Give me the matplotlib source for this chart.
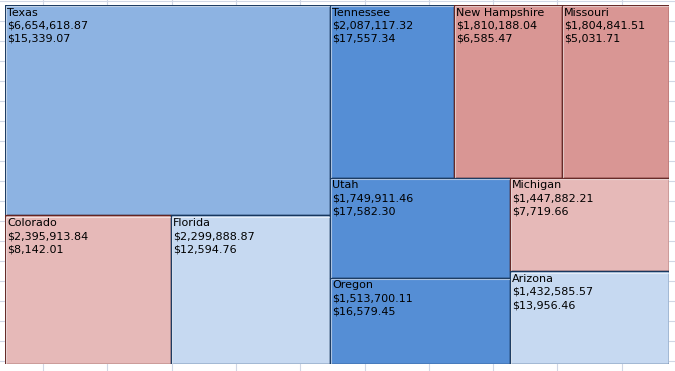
import numpy as np
import matplotlib
matplotlib.use("Agg")
import matplotlib.pyplot as plt
from matplotlib.patches import Rectangle
from matplotlib.colors import ListedColormap, BoundaryNorm

states = ["Texas", "Colorado", "Florida", "Tennessee", "New Hampshire",
          "Missouri", "Utah", "Oregon", "Michigan", "Arizona"]
sizes = [6654618.87, 2395913.84, 2299888.87, 2087117.32, 1810188.04,
         1804841.51, 1749911.46, 1513700.11, 1447882.21, 1432585.57]
shades = [15339.07, 8142.01, 12594.76, 17557.34, 6585.47,
          5031.71, 17582.30, 16579.45, 7719.66, 13956.46]

# binned diverging scale: low = red, high = blue
bounds = [0, 7000, 10000, 14500, 16000, 20000]
fills = ["#D99694", "#E6B9B8", "#C6D9F1", "#8DB3E2", "#558ED5"]
edges = ["#632523", "#632523", "#17375E", "#17375E", "#17375E"]
cmap = ListedColormap(fills)
norm = BoundaryNorm(bounds, cmap.N)


def split(items, x, y, w, h, out):
    if len(items) == 1:
        out.append((items[0], x, y, w, h))
        return
    total = sum(sizes[i] for i in items)
    best, bestd, cum = 1, None, 0
    for k in range(1, len(items)):
        cum += sizes[items[k - 1]]
        d = abs(cum - total / 2)
        if bestd is None or d < bestd:
            best, bestd = k, d
    a, b = items[:best], items[best:]
    f = sum(sizes[i] for i in a) / total
    if w >= h:
        split(a, x, y, w * f, h, out)
        split(b, x + w * f, y, w * (1 - f), h, out)
    else:
        split(a, x, y, w, h * f, out)
        split(b, x, y + h * f, w, h * (1 - f), out)


W, H = 664, 359
order = sorted(range(len(states)), key=lambda i: -sizes[i])
rects = []
split(order, 0, 0, W, H, rects)

fig = plt.figure(figsize=(6.75, 3.71), dpi=100)
fig.patch.set_facecolor("white")

# spreadsheet grid behind the chart
bg = fig.add_axes([0, 0, 1, 1])
bg.set_xlim(0, 675)
bg.set_ylim(371, 0)
bg.axis("off")
for gx in np.arange(43, 675, 64.3):
    bg.axvline(gx, color="#D0D7E5", lw=0.8)
for gy in np.arange(1, 371, 20):
    bg.axhline(gy, color="#D0D7E5", lw=0.8)

ax = fig.add_axes([5 / 675, 7 / 371, W / 675, H / 371])
ax.set_xlim(0, W)
ax.set_ylim(H, 0)
ax.axis("off")

for i, x, y, w, h in rects:
    b = int(norm(shades[i]))
    ax.add_patch(Rectangle((x, y), w, h, facecolor=fills[b],
                           edgecolor=edges[b], lw=1.0, zorder=2))
    # light bevel on top/left
    ax.plot([x + 1.2, x + 1.2, x + w - 1], [y + h - 1, y + 1.2, y + 1.2],
            color="white", alpha=0.55, lw=0.8, zorder=3)
    lines = [states[i], f"${sizes[i]:,.2f}", f"${shades[i]:,.2f}"]
    for k, t in enumerate(lines):
        ax.annotate(t, (x, y), xytext=(1.6, -1.8 - k * 9.4),
                    textcoords="offset points", ha="left", va="top",
                    fontsize=8, color="black", zorder=4,
                    annotation_clip=False)

fig.savefig("out.png", dpi=100)
